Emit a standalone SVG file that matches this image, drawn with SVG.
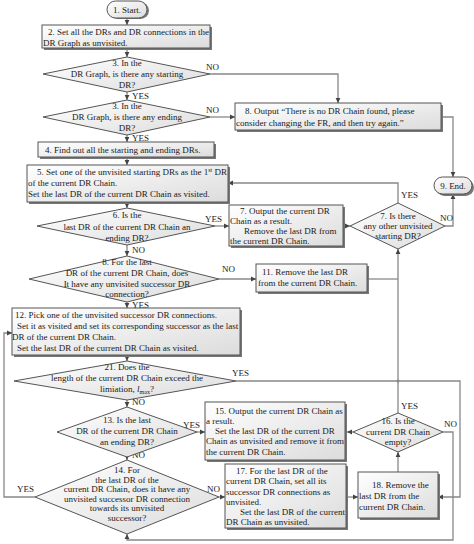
<svg xmlns="http://www.w3.org/2000/svg" width="474" height="544" viewBox="0 0 474 544">
<defs>
<linearGradient id="g" x1="0" y1="0" x2="1" y2="1">
<stop offset="0" stop-color="#ffffff"/>
<stop offset="1" stop-color="#dcdcdc"/>
</linearGradient>
<marker id="a" markerWidth="6" markerHeight="6" refX="5" refY="3" orient="auto" markerUnits="userSpaceOnUse">
<path d="M0,0.6 L5,3 L0,5.4 Z" fill="#444"/>
</marker>
</defs>
<style>
.b{fill:url(#g);stroke:#555;stroke-width:1}
.s{fill:#777;stroke:none}
.l{fill:none;stroke:#888;stroke-width:1.3}
text{font-family:"Liberation Serif","Times New Roman",serif;font-size:9px;fill:#1a1a1a}
.c{text-anchor:middle}
</style>
<rect width="474" height="544" fill="#fff"/>

<g id="connectors">
<path class="l" d="M127,18 V25" marker-end="url(#a)"/>
<path class="l" d="M127,48 V57" marker-end="url(#a)"/>
<path class="l" d="M127,92 V100" marker-end="url(#a)"/>
<path class="l" d="M210,74 H338 V103" marker-end="url(#a)"/>
<path class="l" d="M210,117 H235" marker-end="url(#a)"/>
<path class="l" d="M127,135 V142" marker-end="url(#a)"/>
<path class="l" d="M441,117 H453 V177" marker-end="url(#a)"/>
<path class="l" d="M127,157 V165" marker-end="url(#a)"/>
<path class="l" d="M127,202 V208" marker-end="url(#a)"/>
<path class="l" d="M215,226 H229" marker-end="url(#a)"/>
<path class="l" d="M345,226 H350" marker-end="url(#a)"/>
<path class="l" d="M445,226 H453 V194" marker-end="url(#a)"/>
<path class="l" d="M398,203 V183 H228" marker-end="url(#a)"/>
<path class="l" d="M127,245 V256" marker-end="url(#a)"/>
<path class="l" d="M219,279 H256" marker-end="url(#a)"/>
<path class="l" d="M367,279 H398"/>
<path class="l" d="M398,413 V249" marker-end="url(#a)"/>
<path class="l" d="M127,302 V308" marker-end="url(#a)"/>
<path class="l" d="M127,355 V361" marker-end="url(#a)"/>
<path class="l" d="M236,381 H460 V497 H438" marker-end="url(#a)"/>
<circle cx="398" cy="381" r="1.5" fill="#888"/>
<path class="l" d="M127,400 V407" marker-end="url(#a)"/>
<path class="l" d="M197,432 H205" marker-end="url(#a)"/>
<path class="l" d="M127,457 V460" marker-end="url(#a)"/>
<path class="l" d="M219,497 H225" marker-end="url(#a)"/>
<path class="l" d="M35,497 H4 V333 H12" marker-end="url(#a)"/>
<path class="l" d="M348,497 H358" marker-end="url(#a)"/>
<path class="l" d="M398,472 V452" marker-end="url(#a)"/>
<path class="l" d="M353,432 H347" marker-end="url(#a)"/>
<path class="l" d="M443,432 H453 V540 H127 V534" marker-end="url(#a)"/>
</g>

<g id="labels">
<text x="206" y="70">NO</text>
<text x="132" y="99">YES</text>
<text x="206" y="113">NO</text>
<text x="132" y="141">YES</text>
<text x="205" y="222">YES</text>
<text x="401" y="198">YES</text>
<text x="440" y="221">NO</text>
<text x="132" y="253">NO</text>
<text x="222" y="272">NO</text>
<text x="132" y="308">YES</text>
<text x="232" y="376">YES</text>
<text x="132" y="405">NO</text>
<text x="183" y="428">YES</text>
<text x="132" y="458">NO</text>
<text x="17" y="492">YES</text>
<text x="207" y="492">NO</text>
<text x="401" y="409">YES</text>
<text x="444" y="427">NO</text>
</g>

<g id="n1">
<rect class="s" x="109" y="2" width="40" height="17" rx="8.5"/>
<rect class="b" x="107" y="1" width="40" height="17" rx="8.5"/>
<text class="c" x="127" y="12.5">1. Start.</text>
</g>

<g id="n2">
<rect class="s" x="44" y="27" width="168" height="23"/>
<rect class="b" x="42" y="25" width="168" height="23"/>
<text x="48" y="35">2. Set all the DRs and DR connections in the</text>
<text x="43" y="46">DR Graph as unvisited.</text>
</g>

<g id="n3">
<polygon class="b" points="127,57 210,74 127,92 43,74"/>
<text class="c" x="127" y="66">3. In the</text>
<text class="c" x="127" y="77">DR Graph, is there any starting</text>
<text class="c" x="127" y="88">DR?</text>
</g>

<g id="n3b">
<polygon class="b" points="127,100 210,117 127,135 43,117"/>
<text class="c" x="127" y="109">3. In the</text>
<text class="c" x="127" y="120">DR Graph, is there any ending</text>
<text class="c" x="127" y="131">DR?</text>
</g>

<g id="n8">
<rect class="s" x="237" y="105" width="206" height="27"/>
<rect class="b" x="235" y="103" width="206" height="27"/>
<text x="245" y="114">8. Output  “There is no DR Chain found, please</text>
<text x="236" y="126">consider changing the FR, and then try again.”</text>
</g>

<g id="n4">
<rect class="s" x="40" y="144" width="176" height="15"/>
<rect class="b" x="38" y="142" width="176" height="15"/>
<text x="45" y="152.5">4. Find out all the starting and ending DRs.</text>
</g>

<g id="n5">
<rect class="s" x="29" y="167" width="201" height="37"/>
<rect class="b" x="27" y="165" width="201" height="37"/>
<text x="37" y="175">5. Set one of the unvisited starting DRs as the 1<tspan font-size="6" dy="-3">st</tspan><tspan dy="3"> DR</tspan></text>
<text x="28" y="186">of the current DR Chain.</text>
<text x="28" y="197">Set the last DR of the current DR Chain as visited.</text>
</g>

<g id="n9">
<rect class="s" x="436" y="179" width="38" height="17" rx="8.5"/>
<rect class="b" x="434" y="177" width="38" height="17" rx="8.5"/>
<text class="c" x="453" y="188.5">9. End.</text>
</g>

<g id="n6">
<polygon class="b" points="127,208 215,226 127,245 37,226"/>
<text class="c" x="127" y="218">6. Is the</text>
<text class="c" x="127" y="230">last DR of the current DR Chain an</text>
<text class="c" x="127" y="241">ending DR?</text>
</g>

<g id="n7out">
<rect class="s" x="231" y="207" width="114" height="41"/>
<rect class="b" x="229" y="205" width="114" height="41"/>
<text x="240" y="214">7. Output the current DR</text>
<text x="230" y="224">Chain as a result.</text>
<text x="244" y="234">Remove the last DR from</text>
<text x="230" y="244">the current DR Chain.</text>
</g>

<g id="n7">
<polygon class="b" points="398,203 445,226 398,249 350,226"/>
<text class="c" x="398" y="219">7. Is there</text>
<text class="c" x="398" y="229">any other unvisited</text>
<text class="c" x="398" y="239">starting DR?</text>
</g>

<g id="n8d">
<polygon class="b" points="127,256 219,279 127,302 29,279"/>
<text class="c" x="127" y="265">8. For the last</text>
<text class="c" x="127" y="276">DR of the current DR Chain, does</text>
<text class="c" x="127" y="287">It have any unvisited successor DR</text>
<text class="c" x="127" y="297">connection?</text>
</g>

<g id="n11">
<rect class="s" x="258" y="266" width="111" height="28"/>
<rect class="b" x="256" y="264" width="111" height="28"/>
<text x="262" y="275">11. Remove the last DR</text>
<text x="258" y="286">from the current DR Chain.</text>
</g>

<g id="n12">
<rect class="s" x="14" y="310" width="228" height="47"/>
<rect class="b" x="12" y="308" width="228" height="47"/>
<text x="15" y="318">12. Pick one of the unvisited successor DR connections.</text>
<text x="17" y="329">Set it as visited and set its corresponding successor as the last</text>
<text x="12" y="340">DR of the current DR Chain.</text>
<text x="17" y="351">Set the last DR of the current DR Chain as visited.</text>
</g>

<g id="n21">
<polygon class="b" points="127,361 236,381 127,400 14,381"/>
<text class="c" x="127" y="370">21. Does the</text>
<text class="c" x="127" y="381">length of the current DR Chain exceed the</text>
<text class="c" x="127" y="392">limiation, <tspan font-style="italic">l</tspan><tspan font-size="6" dy="2">max</tspan><tspan dy="-2">?</tspan></text>
</g>

<g id="n13">
<polygon class="b" points="127,407 197,432 127,457 57,432"/>
<text class="c" x="127" y="423">13. Is the last</text>
<text class="c" x="127" y="434">DR of the current DR Chain</text>
<text class="c" x="127" y="445">an ending DR?</text>
</g>

<g id="n15">
<rect class="s" x="207" y="404" width="140" height="58"/>
<rect class="b" x="205" y="402" width="140" height="58"/>
<text x="215" y="414">15. Output the current DR Chain as</text>
<text x="206" y="424">a result.</text>
<text x="215" y="434">Set the last DR of the current DR</text>
<text x="206" y="444">Chain as unvisited and remove it from</text>
<text x="206" y="455">the current DR Chain.</text>
</g>

<g id="n16">
<polygon class="b" points="398,413 443,432 398,452 353,432"/>
<text class="c" x="398" y="424">16. Is the</text>
<text class="c" x="398" y="435">current DR Chain</text>
<text class="c" x="398" y="445">empty?</text>
</g>

<g id="n14">
<polygon class="b" points="127,460 219,497 127,534 35,497"/>
<text class="c" x="127" y="473">14. For</text>
<text class="c" x="127" y="483">the last DR of the</text>
<text class="c" x="127" y="492">current DR Chain, does it have any</text>
<text class="c" x="127" y="502">unvisited successor DR connection</text>
<text class="c" x="127" y="511">towards its unvisited</text>
<text class="c" x="127" y="521">successor?</text>
</g>

<g id="n17">
<rect class="s" x="227" y="466" width="121" height="64"/>
<rect class="b" x="225" y="464" width="121" height="64"/>
<text x="236" y="474">17. For the last DR of the</text>
<text x="226" y="484">current DR Chain, set all its</text>
<text x="226" y="495">successor DR connections as</text>
<text x="226" y="505">unvisited.</text>
<text x="240" y="515">Set the last DR of the current</text>
<text x="226" y="525">DR Chain as unvisited.</text>
</g>

<g id="n18">
<rect class="s" x="360" y="474" width="80" height="46"/>
<rect class="b" x="358" y="472" width="80" height="46"/>
<text x="372" y="488">18. Remove the</text>
<text x="359" y="499">last DR from the</text>
<text x="359" y="510">current DR Chain.</text>
</g>
</svg>
